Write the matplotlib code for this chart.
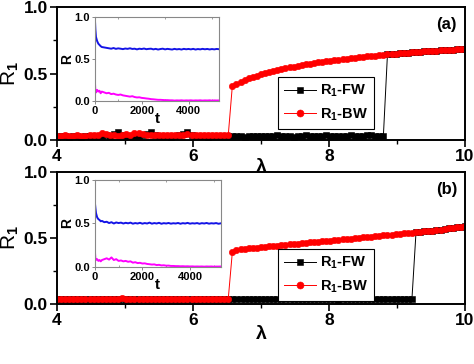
import numpy as np
import matplotlib
matplotlib.use("Agg")
import matplotlib.pyplot as plt
from matplotlib.ticker import MultipleLocator

plt.rcParams['font.family'] = ['Liberation Sans', 'DejaVu Sans']
plt.rcParams['font.weight'] = 'bold'
plt.rcParams['mathtext.fontset'] = 'custom'
plt.rcParams['mathtext.rm'] = 'Liberation Sans:bold'
plt.rcParams['mathtext.bf'] = 'Liberation Sans:bold'
plt.rcParams['mathtext.default'] = 'bf'

# ---------------- data ----------------
lam = np.round(4 + 0.06 * np.arange(101), 2)   # scan grid of lambda

a_bw_low = [0.030,0.032,0.035,0.030,0.033,0.035,0.030,0.034,0.036,0.040,
            0.042,0.050,0.044,0.036,0.040,0.032,0.036,0.045,0.040,0.050,
            0.055,0.046,0.040,0.042,0.036,0.035,0.040,0.036,0.042,0.036,
            0.040,0.041,0.046,0.040,0.036,0.040,0.035,0.040,0.036,0.035,
            0.040,0.036,0.040]
a_bw_high = [0.410,0.425,0.440,0.455,0.465,0.475,0.485,0.495,0.505,0.513,
             0.520,0.527,0.534,0.540,0.546,0.552,0.558,0.563,0.568,0.573,
             0.578,0.583,0.587,0.592,0.596,0.600,0.604,0.608,0.612,0.616,
             0.619,0.623,0.626,0.629,0.632,0.635,0.638,0.641,0.644,0.647,
             0.650,0.652,0.655,0.657,0.660,0.662,0.664,0.666,0.668,0.670,
             0.672,0.674,0.676,0.678,0.680,0.682,0.684,0.686]
a_fw_low = [0.025,0.028,0.030,0.026,0.030,0.028,0.025,0.030,0.028,0.032,
            0.030,0.028,0.035,0.030,0.045,0.058,0.040,0.030,0.028,0.032,
            0.030,0.035,0.045,0.060,0.042,0.030,0.028,0.030,0.026,0.030,
            0.035,0.045,0.058,0.040,0.030,0.028,0.030,0.026,0.030,0.028,
            0.030,0.028,0.030,0.032,0.028,0.030,0.026,0.030,0.032,0.028,
            0.030,0.034,0.030,0.028,0.036,0.030,0.028,0.030,0.026,0.030,
            0.032,0.036,0.030,0.028,0.030,0.034,0.038,0.030,0.032,0.028,
            0.030,0.034,0.036,0.032,0.030,0.034,0.036,0.038,0.034,0.032,
            0.030]
a_fw_high = [0.644,0.647,0.650,0.652,0.655,0.657,0.660,0.662,0.664,0.666,
             0.668,0.670,0.672,0.674,0.676,0.678,0.680,0.682,0.684,0.686]

b_bw_low = [0.040,0.041,0.039,0.041,0.040,0.039,0.041,0.040,0.041,0.039,
            0.040,0.041,0.040,0.039,0.041,0.040,0.043,0.041,0.040,0.039,
            0.041,0.040,0.039,0.041,0.040,0.041,0.039,0.040,0.041,0.040,
            0.039,0.041,0.040,0.039,0.041,0.040,0.039,0.041,0.040,0.039,
            0.041,0.040,0.041]
b_bw_high = [0.395,0.410,0.414,0.417,0.420,0.423,0.426,0.429,0.432,0.435,
             0.438,0.441,0.444,0.447,0.450,0.453,0.456,0.459,0.462,0.465,
             0.468,0.471,0.474,0.477,0.480,0.483,0.486,0.489,0.492,0.495,
             0.498,0.501,0.504,0.507,0.510,0.513,0.516,0.519,0.522,0.525,
             0.528,0.531,0.534,0.537,0.540,0.543,0.546,0.549,0.552,0.555,
             0.559,0.563,0.567,0.571,0.575,0.579,0.583,0.587]
b_fw_low = [0.035,0.038,0.036,0.034,0.038,0.036,0.035,0.038,0.036,0.034,
            0.036,0.038,0.035,0.036,0.034,0.038,0.036,0.035,0.038,0.036,
            0.034,0.036,0.040,0.036,0.035,0.038,0.036,0.034,0.036,0.038,
            0.035,0.036,0.038,0.034,0.036,0.035,0.038,0.036,0.034,0.036,
            0.038,0.035,0.036,0.038,0.034,0.036,0.035,0.038,0.036,0.034,
            0.036,0.038,0.035,0.036,0.034,0.038,0.036,0.035,0.038,0.036,
            0.034,0.036,0.038,0.035,0.036,0.038,0.034,0.036,0.035,0.030,
            0.036,0.038,0.035,0.036,0.034,0.038,0.036,0.035,0.038,0.036,
            0.034,0.036,0.038,0.035,0.036,0.038,0.036,0.038]
b_fw_high = [0.543,0.546,0.549,0.552,0.555,0.559,0.563,0.567,0.571,0.575,
             0.579,0.583,0.587]

t_ins = [0, 25, 50, 100, 150, 200, 250, 300] + list(range(400, 5301, 100))

a_blue = [1.00,0.85,0.76,0.71,0.68,0.665,0.65,0.64,
          0.635,0.630,0.625,0.620,0.628,0.618,0.624,0.620,0.615,0.622,
          0.618,0.625,0.617,0.620,0.612,0.620,0.616,0.622,0.614,0.618,
          0.620,0.612,0.618,0.610,0.616,0.620,0.612,0.618,0.614,0.610,
          0.618,0.612,0.616,0.610,0.618,0.613,0.617,0.612,0.618,0.610,
          0.616,0.612,0.618,0.613,0.617,0.611,0.616,0.612,0.617,0.614]
a_mag = [0.25,0.12,0.10,0.13,0.11,0.12,0.09,0.11,
         0.10,0.09,0.095,0.08,0.085,0.075,0.07,0.075,0.065,0.06,
         0.055,0.05,0.055,0.045,0.04,0.042,0.035,0.032,0.028,0.025,
         0.02,0.018,0.015,0.012,0.012,0.01,0.008,0.008,0.006,0.006,
         0.003,0.005,0.004,0.006,0.003,0.005,0.004,0.006,0.003,0.005,
         0.004,0.006,0.003,0.005,0.004,0.006,0.003,0.005,0.004,0.005]
b_blue = [0.75,0.68,0.62,0.57,0.55,0.54,0.525,0.53,
          0.515,0.52,0.505,0.515,0.50,0.512,0.505,0.51,0.50,0.508,
          0.502,0.51,0.498,0.505,0.50,0.508,0.498,0.505,0.50,0.51,
          0.498,0.505,0.50,0.508,0.497,0.504,0.50,0.506,0.498,0.503,
          0.50,0.506,0.497,0.504,0.50,0.507,0.498,0.503,0.50,0.505,
          0.497,0.504,0.50,0.506,0.498,0.503,0.50,0.505,0.497,0.502]
b_mag = [0.20,0.10,0.08,0.09,0.07,0.08,0.065,0.08,
         0.09,0.10,0.085,0.11,0.08,0.09,0.07,0.075,0.065,0.07,
         0.06,0.065,0.05,0.055,0.045,0.048,0.04,0.042,0.035,0.032,
         0.028,0.03,0.022,0.025,0.018,0.02,0.015,0.016,0.012,0.012,
         0.01,0.01,0.008,0.009,0.007,0.008,0.006,0.007,0.005,0.006,
         0.005,0.006,0.004,0.006,0.005,0.006,0.004,0.005,0.005,0.006]

panels = [
    dict(fw=a_fw_low + a_fw_high, bw=a_bw_low + a_bw_high, tag='(a)',
         blue=a_blue, mag=a_mag,
         main=[0.120, 0.615, 0.861, 0.366], ins=[0.200, 0.723, 0.262, 0.231],
         leg=(0.542, 0.474), xl=-0.14),
    dict(fw=b_fw_low + b_fw_high, bw=b_bw_low + b_bw_high, tag='(b)',
         blue=b_blue, mag=b_mag,
         main=[0.120, 0.165, 0.861, 0.363], ins=[0.200, 0.2665, 0.266, 0.239],
         leg=(0.542, 0.417), xl=-0.17),
]

fig = plt.figure(figsize=(4.74, 3.64), dpi=100)

for p in panels:
    ax = fig.add_axes(p['main'])
    ax.plot(lam, p['fw'], '-s', color='black', lw=0.7, ms=3.8, mew=0.4,
            label='R$_1$-FW')
    ax.plot(lam, p['bw'], '-o', color='red', lw=0.7, ms=4.6, mew=0.4,
            mfc='red', mec='red', label='R$_1$-BW')
    ax.set_xlim(4, 10)
    ax.set_ylim(0, 1)
    ax.xaxis.set_major_locator(MultipleLocator(2))
    ax.xaxis.set_minor_locator(MultipleLocator(1))
    ax.yaxis.set_major_locator(MultipleLocator(0.5))
    ax.yaxis.set_minor_locator(MultipleLocator(0.25))
    ax.tick_params(which='major', direction='out', length=5, width=1.2,
                   labelsize=12.5, pad=1.5)
    ax.tick_params(which='minor', direction='out', length=3, width=1.0)
    for s in ax.spines.values():
        s.set_linewidth(1.4)
    for lbl in ax.get_xticklabels() + ax.get_yticklabels():
        lbl.set_fontweight('bold')
    ax.set_ylabel('R$_1$', fontsize=15, labelpad=2)
    ax.set_xlabel('λ', fontsize=14, fontweight='bold')
    ax.xaxis.set_label_coords(0.5, p['xl'])
    ax.text(0.955, 0.865, p['tag'], transform=ax.transAxes, fontsize=12,
            fontweight='bold', ha='center', va='center')
    leg = ax.legend(loc='upper left', bbox_to_anchor=p['leg'],
                    borderaxespad=0, fancybox=False, framealpha=1,
                    edgecolor='black', fontsize=10.5, handlelength=2.2,
                    markerscale=1.1, borderpad=0.4, labelspacing=0.5,
                    handletextpad=0.3)
    leg.get_frame().set_linewidth(0.8)
    for txt in leg.get_texts():
        txt.set_fontweight('bold')

    ins = fig.add_axes(p['ins'])
    ins.plot(t_ins, p['blue'], color='#1414e6', lw=1.4)
    ins.plot(t_ins, p['mag'], color='#ff00ff', lw=1.4)
    ins.set_xlim(0, 5300)
    ins.set_ylim(0, 1)
    ins.xaxis.set_major_locator(MultipleLocator(2000))
    ins.xaxis.set_minor_locator(MultipleLocator(1000))
    ins.yaxis.set_major_locator(MultipleLocator(0.5))
    ins.tick_params(which='both', direction='out', labelsize=8, pad=1,
                    color='#777777')
    ins.tick_params(which='major', length=2.5, width=0.6)
    ins.tick_params(which='minor', length=1.5, width=0.5, top=True,
                    direction='in')
    for s in ins.spines.values():
        s.set_color('#888888')
        s.set_linewidth(0.8)
    for lbl in ins.get_xticklabels() + ins.get_yticklabels():
        lbl.set_fontweight('bold')
    ins.set_xlabel('t', fontsize=11, fontweight='bold', labelpad=-3)
    ins.set_ylabel('R', fontsize=10, fontweight='bold', labelpad=0)

fig.savefig('out.png', dpi=100)
